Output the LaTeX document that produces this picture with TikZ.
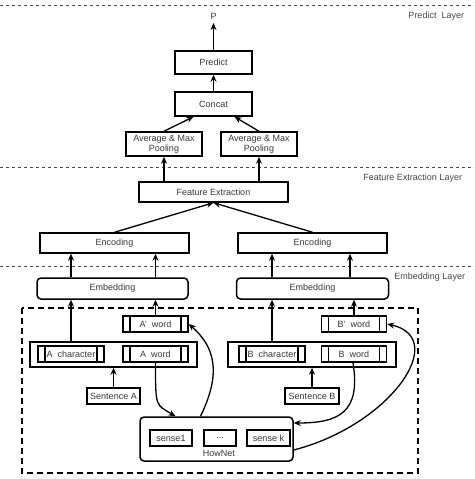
\documentclass[tikz,border=0pt]{standalone}
\usepackage{fontspec}
\setmainfont{Liberation Sans}
\usetikzlibrary{arrows.meta,calc}
\definecolor{txt}{RGB}{55,55,55}
\definecolor{lay}{RGB}{70,70,70}

\begin{document}
\begin{tikzpicture}[x=1pt,y=-1pt,line width=1.3pt,>={Stealth[length=7pt,width=6pt]},font=\fontsize{9}{10}\selectfont,text=txt]
	\tikzstyle{box}=[draw,line width=1.5pt,inner sep=0pt,align=center];
	\tikzstyle{rbox}=[box,rounded corners=4pt];
	\tikzstyle{wordbox}=[box,minimum width=65pt,minimum height=16pt,
		path picture={\draw[line width=1.5pt] ([xshift=7pt]path picture bounding box.north west) -- ([xshift=7pt]path picture bounding box.south west);
		\draw[line width=1.5pt] ([xshift=-7pt]path picture bounding box.north east) -- ([xshift=-7pt]path picture bounding box.south east);}];
	\tikzstyle{layer}=[lay,line width=0.9pt,dash pattern=on 3pt off 3pt];
	\tikzstyle{layname}=[anchor=east,text=lay];
%<--------------------------------------------------------------------------->%
	\useasboundingbox (0,0) rectangle (474,479);
	%% Layers
	\draw[layer] (0,5) -- (474,5);
	\draw[layer] (0,167) -- (474,167);
	\draw[layer] (0,266) -- (474,266);
	\node[layname] (lpred) at (468,16) {Predict\ \ Layer};
	\node[layname] (lfeat) at (466,178) {Feature Extraction Layer};
	\node[layname] (lemb)  at (469,277) {Embedding Layer};
	%% Predict layer
	\node (P) at (213.5,16) {P};
	\node[box,minimum width=77pt,minimum height=23pt] (predict) at (213.5,62.5) {Predict};
	\node[box,minimum width=77pt,minimum height=24pt] (concat)  at (213.5,104) {Concat};
	\node[box,minimum width=76pt,minimum height=24pt] (poolA)   at (164,144) {Average \& Max\\Pooling};
	\node[box,minimum width=76pt,minimum height=24pt] (poolB)   at (259,144) {Average \& Max\\Pooling};
	%% Feature extraction layer
	\node[box,minimum width=149pt,minimum height=20pt] (feat) at (213.5,192) {Feature Extraction};
	\node[box,minimum width=149pt,minimum height=20pt] (encA) at (114.5,243) {Encoding};
	\node[box,minimum width=149pt,minimum height=20pt] (encB) at (312.5,243) {Encoding};
	%% Embedding layer
	\node[rbox,minimum width=151pt,minimum height=21pt] (embA) at (112.5,288.5) {Embedding};
	\node[rbox,minimum width=152pt,minimum height=21pt] (embB) at (312.5,288.5) {Embedding};
	\draw[line width=1.7pt,dash pattern=on 6pt off 4pt] (22,308) rectangle (418,473);
	\node[box,minimum width=167pt,minimum height=25pt] (rowA) at (113.5,354.5) {};
	\node[box,minimum width=168pt,minimum height=25pt] (rowB) at (312,354.5) {};
	\node[wordbox,minimum width=66pt] (charA) at (71,354) {A\ \ character};
	\node[wordbox] (wordA)  at (155.5,354) {A\ \ word};
	\node[wordbox] (wordAp) at (155.5,324) {A'\ \ word};
	\node[wordbox,minimum width=66pt] (charB) at (272,354) {B\ \ character};
	\node[wordbox] (wordB)  at (354,354) {B\ \ word};
	\node[wordbox] (wordBp) at (354,324) {B'\ \ word};
	\node[box,minimum width=53pt,minimum height=16pt] (sentA) at (113.5,396) {Sentence A};
	\node[box,minimum width=54pt,minimum height=16pt] (sentB) at (312,396) {Sentence B};
	%% HowNet
	\node[rbox,minimum width=153pt,minimum height=44pt] (hownet) at (216.5,439) {};
	\node[box,minimum width=42pt,minimum height=16pt] (sense1) at (171,438) {sense1};
	\node[box,minimum width=32pt,minimum height=16pt] (senses) at (220,438) {...};
	\node[box,minimum width=43pt,minimum height=16pt] (sensek) at (268.5,438) {sense k};
	\node (hnlabel) at (219,453) {HowNet};
	%% Arrows
	\draw[->] (predict) -- (P);
	\draw[->] (concat) -- (predict);
	\draw[->] (poolA.north) -- ([xshift=-20pt]concat.south);
	\draw[->] (poolB.north) -- ([xshift=21pt]concat.south);
	\draw[->] (feat.north -| poolA) -- (poolA.south);
	\draw[->] (feat.north -| poolB) -- (poolB.south);
	\draw[->] (encA.north) -- (feat.south);
	\draw[->] (encB.north) -- (feat.south);
	\draw[->] (embA.north -| charA) -- (encA.south -| charA);
	\draw[->] (embA.north -| wordAp) -- (encA.south -| wordAp);
	\draw[->] (embB.north -| charB) -- (encB.south -| charB);
	\draw[->] ([xshift=-4pt]embB.north -| wordBp) -- ([xshift=-4pt]encB.south -| wordBp);
	\draw[->] (rowA.north -| charA) -- (embA.south -| charA);
	\draw[->] (wordAp) -- (embA.south -| wordAp);
	\draw[->] (rowB.north -| charB) -- (embB.south -| charB);
	\draw[->] (wordBp) -- (embB.south -| wordBp);
	\draw[->] (sentA) -- (rowA);
	\draw[->] (sentB) -- (rowB);
	%% Arrows to and from HowNet
	\draw[->] (wordA.south) .. controls +(0,45) and +(-20,-12) .. ([xshift=-41pt]hownet.north);
	\draw[->] ([xshift=-16pt]hownet.north) .. controls +(22,-45) and +(25,22) .. (wordAp.east);
	\draw[->] ([xshift=-1pt]wordB.south) .. controls +(8,50) and +(45,0) .. ([yshift=16pt]hownet.east);
	\draw[->] ([yshift=-11pt]hownet.east) .. controls +(97,-25) and +(63,14) .. (wordBp.east);
\end{tikzpicture}
\end{document}
